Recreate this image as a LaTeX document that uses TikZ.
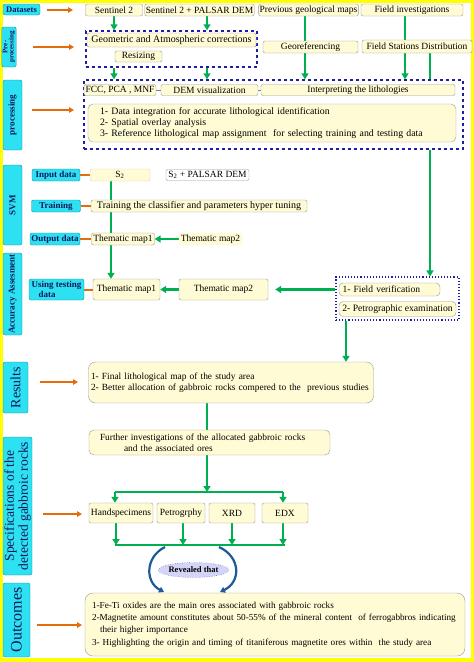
\documentclass[tikz,border=0pt]{standalone}
\usepackage{fontspec}
\setmainfont{Liberation Serif}
\usetikzlibrary{arrows.meta,shapes.geometric,backgrounds}

\definecolor{boxyellow}{RGB}{255,251,212}
\definecolor{sidecyan}{RGB}{45,224,242}
\definecolor{sideedge}{RGB}{30,140,165}
\definecolor{navytext}{RGB}{15,25,90}
\definecolor{flowgreen}{RGB}{0,176,80}
\definecolor{floworange}{RGB}{228,108,10}
\definecolor{dashnavy}{RGB}{30,30,165}
\definecolor{curveblue}{RGB}{30,90,150}
\definecolor{lavender}{RGB}{212,212,246}
\definecolor{frameyellow}{RGB}{255,255,0}

\begin{document}
\begin{tikzpicture}[x=1pt,y=-1pt,
    box/.style={draw=gray!80, fill=boxyellow, rounded corners=2pt, inner sep=1pt,
      font=\fontsize{9.5}{11}\selectfont},
    topbox/.style={box, minimum height=12pt, font=\fontsize{9.5}{11}\selectfont},
    sidelab/.style={draw=sideedge, fill=sidecyan, rounded corners=2pt, inner sep=1pt,
      text=navytext, font=\bfseries\fontsize{9}{10}\selectfont},
    biglab/.style={sidelab, align=center, font=\fontsize{13.5}{14}\selectfont},
    dashbox/.style={draw=dashnavy, dashed, line width=1.4pt, inner sep=0pt},
    dotbox/.style={draw=dashnavy, dotted, line width=1.1pt, inner sep=0pt},
    garrow/.style={draw=flowgreen, line width=2.4pt, -{Triangle[width=7pt,length=6pt]}},
    gline/.style={draw=flowgreen, line width=2.4pt},
    oarrow/.style={draw=floworange, line width=1.7pt, -{Triangle[width=5.5pt,length=5pt]}},
    odash/.style={draw=floworange, line width=2pt},
    curvy/.style={draw=curveblue, line width=2.2pt, -{Triangle[width=6pt,length=5pt]}}]

\useasboundingbox (0,0) rectangle (474,662);

% left hand labels
\node[sidelab, minimum width=37pt, minimum height=11pt, font=\bfseries\fontsize{8.5}{9}\selectfont] (datasets) at (21.5,9.5) {Datasets};
\node[sidelab, rotate=90, minimum width=40pt, minimum height=12pt, align=center,
  font=\bfseries\fontsize{7}{6.3}\selectfont] (lpre) at (9,47) {Pre-\\processing};
\foreach \name/\cy/\len/\lab in {lproc/115/70/processing, lsvm/205/80/SVM, lacc/294/82/{Accuracy Assesment}}
  \node[sidelab, rotate=90, minimum width=\len pt, minimum height=19pt] (\name) at (12.5,\cy) {\lab};
\foreach \name/\cx/\cy/\len/\th/\fs/\lab in {
    lres/15.5/387.5/51/25/14/Results,
    lspec/17.5/506/138/29/13.5/{Specifications of the\\detected gabbroic rocks},
    lout/16.5/620/74/27/16/Outcomes}
  \node[biglab, rotate=90, minimum width=\len pt, minimum height=\th pt,
    font=\fontsize{\fs}{14}\selectfont] (\name) at (\cx,\cy) {\lab};

% datasets
\foreach \name/\cx/\w/\lab in {s2/114/57/{Sentinel 2}, s2dem/199.5/109/{Sentinel 2 + PALSAR DEM},
    geomaps/308.5/99/{Previous geological maps}, fieldinv/412/102/{Field investigations}}
  \node[topbox, minimum width=\w pt] (\name) at (\cx,10) {\lab};

% pre-processing
\node[dashbox, minimum width=171pt, minimum height=36pt] (pre) at (171.5,49) {};
\node[topbox, minimum width=169pt, minimum height=14pt, font=\fontsize{10}{11}\selectfont] (geocor) at (171.5,40) {Geometric and Atmospheric corrections};
\node[topbox, minimum width=47pt, minimum height=11pt] (resize) at (138.5,56.5) {Resizing};
\node[topbox, minimum width=95pt] (georef) at (310.5,47) {Georeferencing};
\node[topbox, minimum width=110pt, minimum height=13pt] (fieldst) at (417,46.5) {Field Stations Distribution};

% processing
\node[dashbox, minimum width=379pt, minimum height=69pt] (proc) at (273.5,114.5) {};
\node[box, minimum width=72pt, minimum height=11pt] (fcc) at (120,90) {FCC, PCA , MNF};
\node[box, minimum width=97pt, minimum height=11pt] (demvis) at (209.5,90) {DEM visualization};
\node[box, minimum width=194pt, minimum height=11pt] (interp) at (358,90) {Interpreting the lithologies};
\node[box, rounded corners=5pt, minimum width=368pt, minimum height=38pt, text width=344pt, align=left,
  font=\fontsize{9.8}{11}\selectfont] (steps) at (272,123)
  {1- Data integration for accurate lithological identification\\
   2- Spatial overlay analysis\\
   3- Reference lithological map assignment \ for selecting training and testing data};

% SVM
\node[sidelab, minimum width=48pt, minimum height=12pt] (inputlab) at (56,175) {Input data};
\node[box, draw=boxyellow!70!gray, minimum width=60pt, minimum height=12pt] (s2in) at (120,175) {S\textsubscript{2}};
\node[box, fill=white, minimum width=83pt, minimum height=11pt] (s2demin) at (207.5,175) {S\textsubscript{2} + PALSAR DEM};
\node[sidelab, minimum width=49pt, minimum height=12pt] (trainlab) at (56,206) {Training};
\node[box, minimum width=216pt, minimum height=12pt, font=\fontsize{10}{11}\selectfont] (train) at (199,206) {Training the classifier and parameters hyper tuning};
\node[sidelab, minimum width=50pt, minimum height=12pt] (outlab) at (55,239) {Output data};
\node[box, minimum width=63pt, minimum height=12pt] (tm1out) at (123,239) {Thematic map1};
\node[box, draw=boxyellow, minimum width=63pt, minimum height=12pt] (tm2out) at (210.5,239) {Thematic map2};

% accuracy assessment
\node[sidelab, minimum width=55pt, minimum height=21pt, align=left, font=\bfseries\fontsize{9}{9.5}\selectfont] (testlab) at (56.5,289.5)
  {Using testing\\\hspace*{7pt}data};
\node[box, minimum width=67pt, minimum height=21pt] (tm1acc) at (126.5,289.5) {Thematic map1};
\node[box, minimum width=89pt, minimum height=21pt] (tm2acc) at (223.5,289.5) {Thematic map2};
\node[dotbox, minimum width=123pt, minimum height=43pt] (verify) at (397.5,298.5) {};
\node[box, rounded corners=4pt, minimum width=101pt, minimum height=13pt, text width=94pt, align=left] (fieldver) at (389.5,289.5) {1- Field verification};
\node[box, rounded corners=4pt, minimum width=117pt, minimum height=15pt, font=\fontsize{9.7}{11}\selectfont] (petro) at (397.5,309) {2- Petrographic examination};

% results and specifications
\node[box, rounded corners=7pt, minimum width=285pt, minimum height=41pt, text width=280pt, align=left,
  font=\fontsize{9.4}{11.5}\selectfont] (results) at (231,382.5)
  {1- Final lithological map of the study area\\
   2- Better allocation of gabbroic rocks compered to the \ previous studies};
\node[box, rounded corners=5pt, minimum width=241pt, minimum height=25pt, text width=219pt, align=left,
  font=\fontsize{9.4}{11}\selectfont] (further) at (209.5,442.5)
  {Further investigations of the allocated gabbroic rocks\\
   \hspace*{24pt}and the associated ores};
\foreach \name/\cx/\w/\lab in {hand/121/64/Handspecimens, petrog/181/48/Petrogrphy, xrd/232/46/XRD, edx/285/46/EDX}
  \node[box, minimum width=\w pt, minimum height=20pt] (\name) at (\cx,513) {\lab};
\node[ellipse, draw=dashnavy, dotted, fill=lavender, minimum width=63pt, minimum height=15pt, inner sep=0pt,
  font=\bfseries\fontsize{8.5}{9}\selectfont] (reveal) at (193.5,570) {Revealed that};
\node[box, rounded corners=8pt, minimum width=380pt, minimum height=63pt, text width=366pt, align=left,
  font=\fontsize{9.2}{12.3}\selectfont] (outcome) at (275,624.5)
  {1-Fe-Ti oxides are the main ores associated with gabbroic rocks\\
   2-Magnetite amount constitutes about 50-55\% of the mineral content \ of ferrogabbros indicating\\
   \hspace*{8pt}their higher importance\\
   3- Highlighting the origin and timing of titaniferous magnetite ores within \ the study area};

\coordinate (bartop) at (207,492);
\coordinate (barbot) at (207,545);
\coordinate (cla) at (165,547);
\coordinate (clb) at (164,592);
\coordinate (cra) at (219,547);
\coordinate (crb) at (220,592);

\begin{scope}[on background layer]
  % frame
  \fill[frameyellow] (0,0) rectangle (474,662);
  \fill[white] (3,3) rectangle (471,658);

  % datasets to pre-processing and processing
  \draw[garrow] (s2.south) -- (s2.south |- pre.north);
  \draw[garrow] ([xshift=7.5pt]s2dem.south) -- ([xshift=7.5pt]s2dem.south |- pre.north);
  \draw[garrow] ([xshift=-3.5pt]geomaps.south) -- ([xshift=-3.5pt]geomaps.south |- proc.north);
  \draw[garrow] ([xshift=-7pt]fieldinv.south) -- ([xshift=-7pt]fieldinv.south |- proc.north);
  \draw[gline] ([xshift=13pt]fieldst.south) -- ([xshift=13pt]fieldst.south |- proc.north);
  \draw[garrow] (s2.south |- pre.south) -- (s2.south |- proc.north);
  \draw[garrow] ([xshift=7.5pt]s2dem.south |- pre.south) -- ([xshift=7.5pt]s2dem.south |- proc.north);
  \draw[gray, thick] (fcc) -- (demvis);
  \draw[gray, thick] (demvis) -- (interp);

  % processing to verification
  \draw[garrow] ([xshift=13pt]fieldst.south |- proc.south) -- ([xshift=13pt]fieldst.south |- verify.north);

  % SVM and accuracy
  \draw[garrow] ([xshift=-9pt]s2in.south) -- ([xshift=-9pt]s2in.south |- tm1acc.north);
  \draw[odash] (inputlab) -- (s2in);
  \draw[odash] (trainlab) -- (train);
  \draw[odash] (outlab) -- (tm1out);
  \draw[odash] (testlab) -- (tm1acc);
  \draw[garrow] (tm2out) -- (tm1out);
  \draw[garrow] (tm2acc) -- (tm1acc);
  \draw[garrow, shorten >=7pt] (verify.west |- tm2acc) -- (tm2acc.east);
  \draw[garrow] ([xshift=-51.5pt]verify.south) -- ([xshift=-51.5pt]verify.south |- results.north);

  % results to specifications
  \draw[gline] (bartop |- results.south) -- (bartop |- further.north);
  \draw[garrow] (bartop |- further.south) -- (bartop);
  \draw[gline] ([xshift=-6pt]hand.north |- bartop) -- ([xshift=-2pt]edx.north |- bartop);
  \draw[garrow] ([xshift=-6pt]hand.north |- bartop) -- ([xshift=-6pt]hand.north);
  \draw[garrow] ([xshift=-2pt]edx.north |- bartop) -- ([xshift=-2pt]edx.north);
  \foreach \name/\dx in {hand/-5, petrog/2, xrd/0, edx/-2}
    \draw[garrow] ([xshift=\dx pt]\name.south) -- ([xshift=\dx pt]\name.south |- barbot);
  \draw[gline] ([xshift=-6pt]hand.south |- barbot) -- ([xshift=0pt]edx.south |- barbot);

  % side arrows
  \foreach \y/\xa/\xb in {10/47/73, 47/33/74, 110/32/74, 382/40/78, 514/43/82, 625/37/82}
    \draw[oarrow] (\xa,\y) -- (\xb,\y);
\end{scope}

% revealed that
\draw[curvy] (cla) .. controls (145,557) and (145,582) .. (clb);
\draw[curvy] (cra) .. controls (241,557) and (241,582) .. (crb);

\end{tikzpicture}
\end{document}
